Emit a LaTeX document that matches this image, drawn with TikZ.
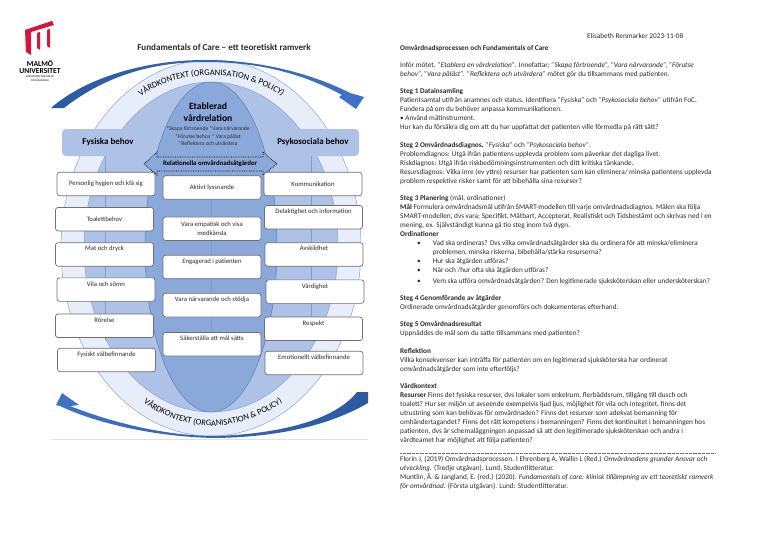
\documentclass[tikz,border=0pt]{standalone}
\usepackage{fontspec}
\setmainfont{Carlito}
\usetikzlibrary{calc,positioning,decorations.text}
\definecolor{ink}{HTML}{2B2B2B}
\definecolor{frame}{HTML}{6F6F6F}
\definecolor{ctxfill}{HTML}{E8EEF9}
\definecolor{ctxline}{HTML}{8FA3C8}
\definecolor{midfill}{HTML}{ADC2E6}
\definecolor{corefill}{HTML}{8BA8DA}
\definecolor{coreline}{HTML}{5F7FB5}
\definecolor{swoopd}{HTML}{2A5A9E}
\definecolor{swoopl}{HTML}{3F72C8}
\definecolor{malmored}{HTML}{D9143A}
\newcommand{\Copy}{\fontsize{7.25}{9}\selectfont}
\newcommand{\BoxS}{\fontsize{6.7}{9}\selectfont}
\newcommand{\UpText}[1]{#1\\\strut}
\newcommand{\Bul}[1]{\makebox[32.7pt][l]{\hspace{17pt}\textbullet}#1}
\tikzset{
  carebox/.style={rounded corners=2.6pt, draw=frame, line width=0.7pt, fill=white, text=ink,
                  align=center, font=\BoxS, inner sep=0pt, minimum width=98pt, minimum height=23.5pt},
  needbox/.style={rounded corners=4pt, fill=midfill, text=black, font=\fontsize{8.9}{10}\selectfont\bfseries,
                  inner sep=0pt, minimum width=92pt, minimum height=27pt},
  copyblock/.style={align=left, font=\Copy, text=ink, inner sep=0pt, anchor=north west,
                  execute at begin node=\strut, execute at end node=\strut},
  nextblock/.style={copyblock, below=9pt of #1.south west, anchor=north west},
  curvetext/.style={decorate, decoration={text along path, text align=center,
                  text={|\fontsize{8.6}{10}\selectfont|VÅRDKONTEXT (ORGANISATION {\&} POLICY)}}},
}
\begin{document}
\begin{tikzpicture}[x=1pt,y=-1pt]
  \useasboundingbox (0,0) rectangle (768,543);
  % logo
  \fill[malmored] (25,30) -- (52,21) -- (54,25) -- (31,32) -- (31,55) -- (26,52) -- cycle;
  \fill[malmored] (37,33) -- (40,32) -- (40,50) -- (37,48) -- cycle;
  \fill[malmored] (47,30) -- (50,29) -- (50,48) -- (47,46) -- cycle;
  \node[font=\fontsize{7.6}{7}\selectfont\bfseries, align=center, inner sep=0pt] (malmo) at (40,66.5) {MALMÖ\\UNIVERSITET};
  \node[font=\fontsize{2.8}{3.6}\selectfont, align=center, inner sep=0pt, below=2pt of malmo] (fakultet) {FAKULTETEN FÖR HÄLSA\\OCH SAMHÄLLE};
  \node[font=\fontsize{9.1}{10}\selectfont\bfseries, text=ink, inner sep=0pt] (title) at (224,47) {Fundamentals of Care – ett teoretiskt ramverk};
  % ellipses
  \draw[fill=ctxfill, draw=ctxline, line width=0.5pt] (211,248) ellipse [x radius=150, y radius=188];
  \draw[fill=midfill, draw=ctxline, line width=0.5pt] (211,247) ellipse [x radius=127, y radius=165];
  \draw[fill=corefill, draw=coreline, line width=0.5pt] (211,247) ellipse [x radius=66, y radius=165];
  \foreach \xv/\yt/\yv in {105.5/150/340,211/190/330,311/150/340}
    \draw[draw=swoopl!70, line width=0.5pt] (\xv,\yt) -- (\xv,\yv);
  \draw[draw=black!12, line width=0.6pt] (51,439) -- (368,439);
  % swooshes
  \path[left color=swoopd, right color=swoopl] (51,108) .. controls (85,78) and (145,60) .. (205,60)
    .. controls (262,60) and (315,75) .. (350,93) -- (364,97) -- (356,109) -- (339,97) -- (342,95)
    .. controls (300,72) and (255,62) .. (205,62) .. controls (145,62) and (100,80) .. (64,108) -- cycle;
  \path[left color=swoopl, right color=swoopd] (357,392) -- (368,392) -- (368,403)
    .. controls (330,425) and (280,437) .. (215,438) .. controls (160,437) and (100,425) .. (60,406)
    -- (56,405) -- (62,393) -- (79,405) -- (70,406) .. controls (110,422) and (165,436) .. (215,436)
    .. controls (280,434) and (335,420) .. (357,392) -- cycle;
  \path[curvetext] (136,100) .. controls (160,80) and (190,75.5) .. (211,75.5) .. controls (232,75.5) and (262,80) .. (287,100);
  \path[curvetext] (139,399) .. controls (160,417) and (190,426) .. (212,426) .. controls (234,426) and (264,417) .. (287,399);
  % centre
  \node[font=\fontsize{9.6}{11.4}\selectfont\bfseries, align=center, inner sep=0pt] (etabl) at (208,112) {Etablerad\\vårdrelation};
  \node[font=\fontsize{5.6}{7.3}\selectfont, align=center, text=ink, inner sep=0pt, below=5.5pt of etabl] (etablsub) {*Skapa förtroende *Vara närvarande\\*Förutse behov * Vara påläst\\*Reflektera och utvärdera};
  \draw[fill=corefill, draw=black, densely dotted, line width=0.7pt] (144,164) -- (157,152) -- (157,157) -- (263,157) -- (263,152)
    -- (277,164) -- (263,175) -- (263,171) -- (157,171) -- (157,175) -- cycle;
  \node[font=\fontsize{6.8}{7}\selectfont\bfseries, inner sep=0pt] (rel) at (210,164) {Relationella omvårdnadsåtgärder};
  \node[needbox] (fys) at (108,142.5) {Fysiska behov};
  \node[needbox] (psy) at (313,142.5) {Psykosociala behov};
  % left column
  \node[carebox] (hyg) at (106,184) {Personlig hygien och klä sig};
  \node[carebox, below=11pt of hyg, xshift=-1.5pt] (toa) {Toalettbehov};
  \node[carebox, below=11pt of toa] (mat) {\UpText{Mat och dryck}};
  \node[carebox, below=11pt of mat, xshift=1.5pt] (vila) {\UpText{Vila och sömn}};
  \node[carebox, below=12pt of vila, xshift=-1.5pt] (ror) {\UpText{Rörelse}};
  \node[carebox, below=10pt of ror, xshift=2pt] (fvb) {\UpText{Fysiskt välbefinnande}};
  % middle column
  \node[carebox] (lyss) at (212,187.5) {Aktivt lyssnande};
  \node[carebox, below=17pt of lyss] (emp) {Vara empatisk och visa\\medkänsla};
  \node[carebox, below=14pt of emp] (eng) {\UpText{Engagerad i patienten}};
  \node[carebox, below=14pt of eng] (nar) {\UpText{Vara närvarande och stödja}};
  \node[carebox, below=15pt of nar] (mal) {\UpText{Säkerställa att mål sätts}};
  % right column
  \node[carebox] (kom) at (313,184) {Kommunikation};
  \node[carebox, below=9pt of kom, xshift=0.5pt] (del) {\UpText{Delaktighet och information}};
  \node[carebox, below=13pt of del, xshift=0.5pt] (avs) {\UpText{Avskildhet}};
  \node[carebox, below=13pt of avs, xshift=1pt] (vrd) {\UpText{Värdighet}};
  \node[carebox, below=13pt of vrd, xshift=-1.5pt] (res) {\UpText{Respekt}};
  \node[carebox, below=10pt of res, xshift=0.5pt] (emo) {\UpText{Emotionellt välbefinnande}};
  % right page
  \node[copyblock] (date) at (587,32) {Elisabeth Renmarker 2023-11-08};
  \node[copyblock] (head) at (400,44) {\textbf{Omvårdnadsprocessen och Fundamentals of Care}};
  \node[nextblock=head] (intro) {Inför mötet. \textit{"Etablera en vårdrelation"}. Innefattar; \textit{"Skapa förtroende", "Vara närvarande", "Förutse}\\
    \textit{behov", "Vara påläst".  "Reflektera och utvärdera"} mötet gör du tillsammans med patienten.};
  \node[nextblock=intro] (steg1) {\textbf{Steg 1 Datainsamling}\\
    Patientsamtal utifrån anamnes och status. Identifiera \textit{"Fysiska"} och \textit{"Psykosociala behov"} utifrån FoC.\\
    Fundera på om du behöver anpassa kommunikationen.\\
    • Använd mätinstrument.\\
    Hur kan du försäkra dig om att du har uppfattat det patienten ville förmedla på rätt sätt?};
  \node[nextblock=steg1] (steg2) {\textbf{Steg 2 Omvårdnadsdiagnos.} \textit{"Fysiska"} och \textit{"Psykosociala behov"}.\\
    Problemdiagnos: Utgå ifrån patientens upplevda problem som påverkar det dagliga livet.\\
    Riskdiagnos: Utgå ifrån riskbedömningsinstrumenten och ditt kritiska tänkande.\\
    Resursdiagnos: Vilka inre (ev yttre) resurser har patienten som kan eliminera/ minska patientens upplevda\\
    problem respektive risker samt för att bibehålla sina resurser?};
  \node[nextblock=steg2] (steg3) {\textbf{Steg 3 Planering} (mål, ordinationer)\\
    \textbf{Mål} Formulera omvårdnadsmål utifrån SMART-modellen till varje omvårdnadsdiagnos. Målen ska följa\\
    SMART-modellen, dvs vara; Specifikt, Mätbart, Accepterat, Realistiskt och Tidsbestämt och skrivas ned i en\\
    mening, ex. Självständigt kunna gå tio steg inom två dygn.\\
    \textbf{Ordinationer}\\
    \Bul{Vad ska ordineras? Dvs vilka omvårdnadsåtgärder ska du ordinera för att minska/eliminera}\\
    \makebox[32.7pt]{}problemen, minska riskerna, bibehålla/stärka resurserna?\\
    \Bul{Hur ska åtgärden utföras?}\\
    \Bul{När och /hur ofta ska åtgärden utföras?}\\[1.5pt]
    \Bul{Vem ska utföra omvårdnadsåtgärden? Den legitimerade sjuksköterskan eller undersköterskan?}};
  \node[nextblock=steg3] (steg4) {\textbf{Steg 4 Genomförande av åtgärder}\\
    Ordinerade omvårdnadsåtgärder genomförs och dokumenteras efterhand.};
  \node[nextblock=steg4] (steg5) {\textbf{Steg 5 Omvårdnadsresultat}\\
    Uppnåddes de mål som du satte tillsammans med patienten?};
  \node[nextblock=steg5] (refl) {\textbf{Reflektion}\\
    Vilka konsekvenser kan inträffa för patienten om en legitimerad sjuksköterska har ordinerat\\
    omvårdnadsåtgärder som inte efterföljs?};
  \node[nextblock=refl] (ctx) {\textbf{Vårdkontext}\\
    \textbf{Resurser} Finns det fysiska resurser, dvs lokaler som enkelrum, flerbäddsrum, tillgång till dusch och\\
    toalett? Hur ser miljön ut avseende exempelvis ljud ljus, möjlighet för vila och integritet, finns det\\
    utrustning som kan behövas för omvårdnaden? Finns det resurser som adekvat bemanning för\\
    omhändertagandet? Finns det rätt kompetens i bemanningen? Finns det kontinuitet i bemanningen hos\\
    patienten, dvs är schemaläggningen anpassad så att den legitimerade sjuksköterskan och andra i\\
    vårdteamet har möjlighet att följa patienten?};
  \draw[draw=ink!70, densely dotted, line width=0.3pt] (400,453) -- (715,453);
  \node[copyblock] (refs) at (400,455.5) {Florin J, (2019) Omvårdnadsprocessen. I Ehrenberg A, Wallin L (Red.) \textit{Omvårdnadens grunder Ansvar och}\\
    \textit{utveckling.} (Tredje utgåvan). Lund, Studentlitteratur.\\
    Muntlin, Å. \& Jangland, E. (red.) (2020). \textit{Fundamentals of care: klinisk tillämpning av ett teoretiskt ramverk}\\
    \textit{för omvårdnad.} (Första utgåvan). Lund: Studentlitteratur.};
\end{tikzpicture}
\end{document}
